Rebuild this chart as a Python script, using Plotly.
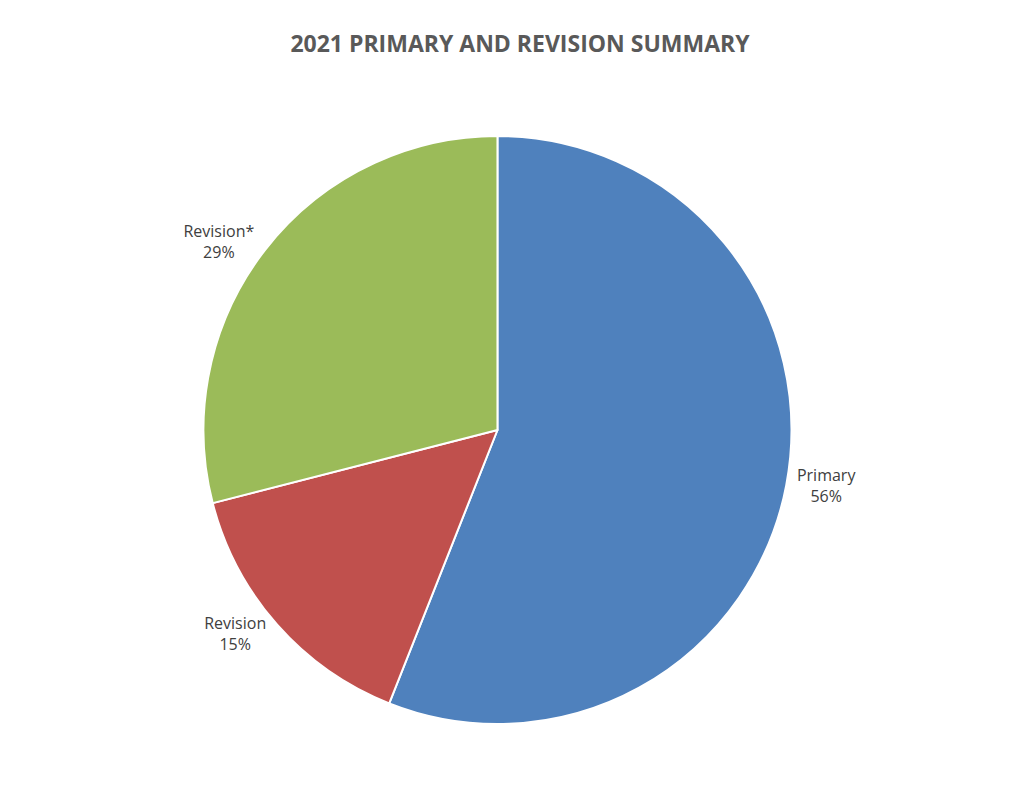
import plotly.graph_objects as go

labels = ["Primary", "Revision", "Revision*"]
values = [56, 15, 29]
colors = ["#4F81BD", "#C0504D", "#9BBB59"]

W, H = 1024, 788
mt, mb = 128, 72

fig = go.Figure(go.Pie(
    labels=labels, values=values, sort=False, direction="clockwise", rotation=0,
    marker=dict(colors=colors, line=dict(color="white", width=2)),
    textinfo="label+percent", textposition="outside",
    texttemplate="%{label}<br>%{percent:.0%}",
    textfont=dict(size=16, color="#404040", family="Open Sans"),
    domain=dict(x=[0.03, 1], y=[0, 1]),
    showlegend=False,
))

fig.update_layout(
    width=W, height=H,
    margin=dict(l=0, r=0, t=mt, b=mb),
    paper_bgcolor="white",
    title=dict(text="<b>2021 PRIMARY AND REVISION SUMMARY</b>", x=0.5, y=0.955,
               xanchor="center", yanchor="middle",
               font=dict(size=23, color="#595959", family="Open Sans")),
)

fig.write_html("out.html")
